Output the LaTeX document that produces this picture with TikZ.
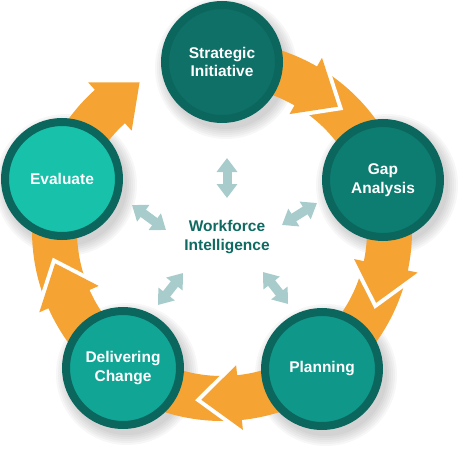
\documentclass[tikz,border=0pt]{standalone}
\usepackage{fontspec}
\setmainfont{Liberation Sans}
\usetikzlibrary{arrows.meta}
\definecolor{org}{HTML}{F5A333}
\definecolor{ring}{HTML}{0B665E}
\definecolor{cA}{HTML}{0E7066}
\definecolor{cB}{HTML}{0D7D71}
\definecolor{cC}{HTML}{0F978A}
\definecolor{cD}{HTML}{11A595}
\definecolor{cE}{HTML}{17C1AA}
\definecolor{wic}{HTML}{0F6A62}
\definecolor{sm}{HTML}{A8CCCC}
\begin{document}
\begin{tikzpicture}[x=1pt,y=-1pt,
  stage/.style={circle, draw=ring, line width=8pt, minimum size=114pt, inner sep=0pt, align=center, text=white, font=\bfseries\fontsize{15.5}{18.5}\selectfont},
  link/.style={draw=sm, line width=9pt, {Triangle[width=20pt,length=14pt]}-{Triangle[width=20pt,length=14pt]}},
  band/.style={fill=org},
  gapline/.style={draw=white, line width=8pt, line join=miter},
  shade/.style={fill=black, opacity=0.03}
]
\useasboundingbox (0,0) rectangle (474,458);
% soft shadows
\foreach \cx/\cy in {222/62, 383/179, 322/369, 123/368, 62/179}{
  \foreach \k in {0,...,5}{
    \fill[shade] (\cx+4,\cy+6) circle[radius=61+2*\k];
  }
}
% orange cycle arrows
\begin{scope}[shift={(222,231)}]
\foreach \a/\n in {-90/1, -18/1, 54/1, 126/1, 198/0}{
  \pgfmathsetmacro\b{\a+72}
  \pgfmathsetmacro\base{\a+30}
  \pgfmathsetmacro\tip{\a+43}
  \ifnum\n=1
    \fill[band] plot[domain=\base:\b, samples=40] (\x:190) -- plot[domain=\b:\base, samples=40] (\x:145) -- cycle;
    \draw[gapline] (\base:200) -- (\tip:170) -- (\base:135);
  \fi
  \fill[band] plot[domain=\a:\base, samples=40] (\x:190) -- (\base:200) -- (\tip:170) -- (\base:135) -- plot[domain=\base:\a, samples=40] (\x:145) -- cycle;
}
\end{scope}
% stages
\node[stage, fill=cA] (si) at (222,62) {Strategic\\Initiative};
\node[stage, fill=cB] (ga) at (383,180) {Gap\\Analysis};
\node[stage, fill=cC] (pl) at (322,369) {Planning};
\node[stage, fill=cD] (dc) at (123,368) {Delivering\\Change};
\node[stage, fill=cE] (ev) at (62,179) {Evaluate};
% centre
\node[align=center, text=wic, font=\bfseries\fontsize{15.5}{18.5}\selectfont] (wi) at (227,237) {Workforce\\Intelligence};
\coordinate (t1) at (227,158); \coordinate (t2) at (227,198);
\coordinate (r1) at (282,225); \coordinate (r2) at (317,203);
\coordinate (l1) at (166,230); \coordinate (l2) at (132,205);
\coordinate (b1) at (183,273); \coordinate (b2) at (158,305);
\coordinate (p1) at (263,272); \coordinate (p2) at (288,304);
\draw[link] (t1) -- (t2);
\draw[link] (r1) -- (r2);
\draw[link] (l1) -- (l2);
\draw[link] (b1) -- (b2);
\draw[link] (p1) -- (p2);
\end{tikzpicture}
\end{document}
